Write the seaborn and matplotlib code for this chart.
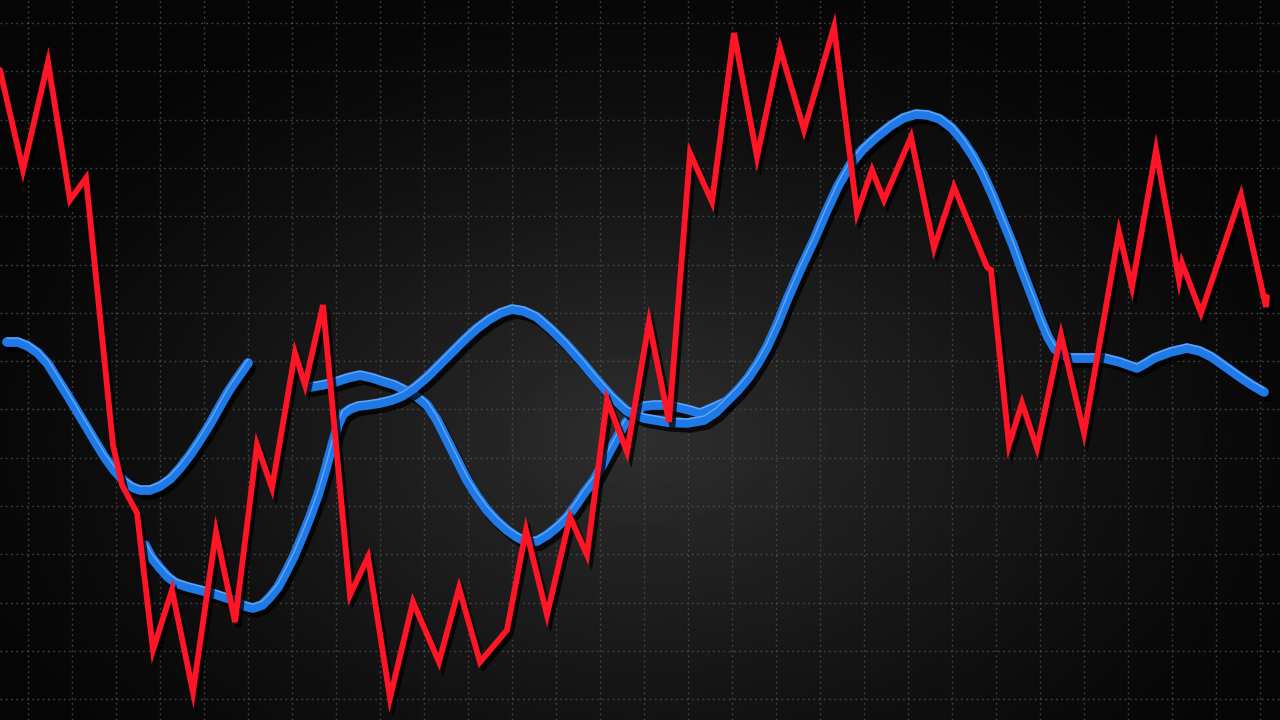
import numpy as np
import matplotlib
matplotlib.use("Agg")
import matplotlib.pyplot as plt
import matplotlib.patheffects as pe
import seaborn as sns

# %% data (x = time position, y = screen level, 0 at top)
red_x = [0, 23, 48, 70, 86, 113, 122, 137, 153, 172, 193, 216, 235, 257, 272,
         295, 305, 323, 350, 368, 390, 413, 439, 459, 480, 507, 526, 547, 570,
         587, 607, 627, 649, 669, 690, 712, 734, 757, 780, 804, 834, 857, 872,
         884, 911, 934, 954, 987, 991, 1009, 1022, 1037, 1061, 1084, 1119, 1132,
         1156, 1179, 1182, 1201, 1241, 1266, 1267]
red_y = [70, 170, 62, 200, 178, 445, 485, 513, 650, 590, 692, 532, 622, 445, 488,
         353, 385, 305, 595, 557, 698, 602, 662, 588, 662, 630, 530, 615, 517,
         555, 400, 452, 322, 422, 153, 202, 33, 157, 48, 130, 27, 213, 170,
         200, 137, 248, 187, 267, 270, 445, 403, 448, 335, 433, 232, 287,
         150, 280, 263, 313, 195, 307, 297]

blue_a_x = [7, 18, 28, 38, 48, 58, 68, 80, 92, 104, 114, 124, 132, 140, 150, 160,
            170, 180, 190, 200, 210, 220, 228, 236, 248]
blue_a_y = [342, 342, 346, 353, 364, 380, 396, 416, 436, 456, 470, 481, 487, 490,
            490, 486, 479, 468, 455, 440, 424, 406, 392, 380, 363]

blue_b_x = [145, 152, 160, 168, 176, 188, 200, 215, 233, 245, 253, 262, 270, 278,
            286, 294, 302, 310, 318, 326, 333, 338, 343, 350, 358, 367, 380, 392,
            402, 414, 427, 440, 452, 464, 476, 488, 500, 512, 524, 537, 552, 567,
            582, 597, 612, 627, 644, 667, 687, 704, 716, 727, 738, 748, 758, 767,
            777, 787, 800, 814, 826, 838, 850, 862, 875, 890, 903, 916, 928, 940,
            952, 963, 973, 983, 993, 1004, 1013, 1022, 1032, 1041, 1048, 1055,
            1063, 1071, 1088, 1104, 1120, 1137, 1146, 1154, 1170, 1187, 1200,
            1212, 1226, 1240, 1252, 1264]
blue_b_y = [545, 558, 568, 577, 583, 587, 590, 594, 600, 606, 608, 605, 597, 587,
            572, 556, 537, 517, 495, 468, 442, 425, 414, 409, 406, 405, 403, 400,
            396, 388, 377, 364, 352, 340, 329, 320, 313, 309, 311, 317, 330, 345,
            362, 380, 397, 411, 418, 422, 423, 420, 412, 401, 390, 378, 363, 347,
            325, 300, 270, 240, 212, 186, 165, 150, 138, 126, 118, 114, 115, 119,
            128, 141, 156, 174, 196, 223, 245, 270, 296, 320, 337, 349,
            355, 358, 358, 358, 362, 368, 363, 358, 352, 348, 351,
            357, 367, 377, 385, 392]

blue_c_x = [310, 322, 335, 347, 360, 373, 385, 395, 405, 416, 427, 437, 447, 457,
            467, 477, 487, 497, 507, 517, 527, 537, 547, 557, 567, 576, 584, 594,
            604, 614, 624, 634, 644, 654, 666, 677, 690, 700, 714, 727]
blue_c_y = [387, 385, 382, 378, 375, 378, 382, 385, 390, 396, 405, 420, 440, 460,
            480, 496, 510, 521, 530, 537, 542, 541, 535, 527, 517, 505, 493, 480,
            462, 443, 425, 412, 406, 405, 405, 407, 410, 413, 407, 401]

grid_x = np.arange(28, 1280, 44)
grid_y = 23 + 48.3 * np.arange(15)

# %% figure
sns.set_theme(style="dark", rc={"axes.facecolor": "#0a0a0a",
                                "figure.facecolor": "#0a0a0a"})
fig = plt.figure(figsize=(12.8, 7.2), dpi=100)
ax = fig.add_axes([0, 0, 1, 1])

# soft spotlight behind the chart
gx, gy = np.meshgrid(np.linspace(0, 1280, 640), np.linspace(0, 720, 360))
r = np.sqrt(((gx - 640) / 720) ** 2 + ((gy - 440) / 470) ** 2)
glow = 0.025 + 0.16 * np.clip(1 - r, 0, 1) ** 1.3
ax.imshow(glow, extent=(0, 1280, 720, 0), cmap="gray", vmin=0, vmax=1,
          aspect="auto", zorder=-1, interpolation="bilinear")

shadow = pe.SimpleLineShadow(offset=(2.5, -3.5), shadow_color="black", alpha=0.75)
blue_fx = [shadow, pe.Normal(),
           pe.SimpleLineShadow(offset=(0, 2.8), shadow_color="#a8d4ff",
                               alpha=0.5, linewidth=1.0)]
red_fx = [shadow, pe.Normal()]

blue = "#1f7ae8"
for bx, by in [(blue_a_x, blue_a_y), (blue_c_x, blue_c_y), (blue_b_x, blue_b_y)]:
    sns.lineplot(x=bx, y=by, sort=False, estimator=None, color=blue,
                 linewidth=7, ax=ax)
    ax.lines[-1].set_solid_capstyle("round")
    ax.lines[-1].set_solid_joinstyle("round")
    ax.lines[-1].set_path_effects(blue_fx)

sns.lineplot(x=red_x, y=red_y, sort=False, estimator=None, color="#ff1525",
             linewidth=4.2, ax=ax)
ax.lines[-1].set_solid_joinstyle("miter")
ax.lines[-1].set_path_effects(red_fx)

ax.set_xlim(0, 1280)
ax.set_ylim(720, 0)
ax.set_xticks(grid_x)
ax.set_yticks(grid_y)
ax.set_xticklabels([])
ax.set_yticklabels([])
ax.tick_params(length=0)
ax.grid(True, color="#555555", linestyle=(0, (1.2, 2.6)), linewidth=1.0, alpha=0.8)
ax.set_xlabel("")
ax.set_ylabel("")
for s in ax.spines.values():
    s.set_visible(False)

fig.savefig("out.png", dpi=100, facecolor=fig.get_facecolor())
